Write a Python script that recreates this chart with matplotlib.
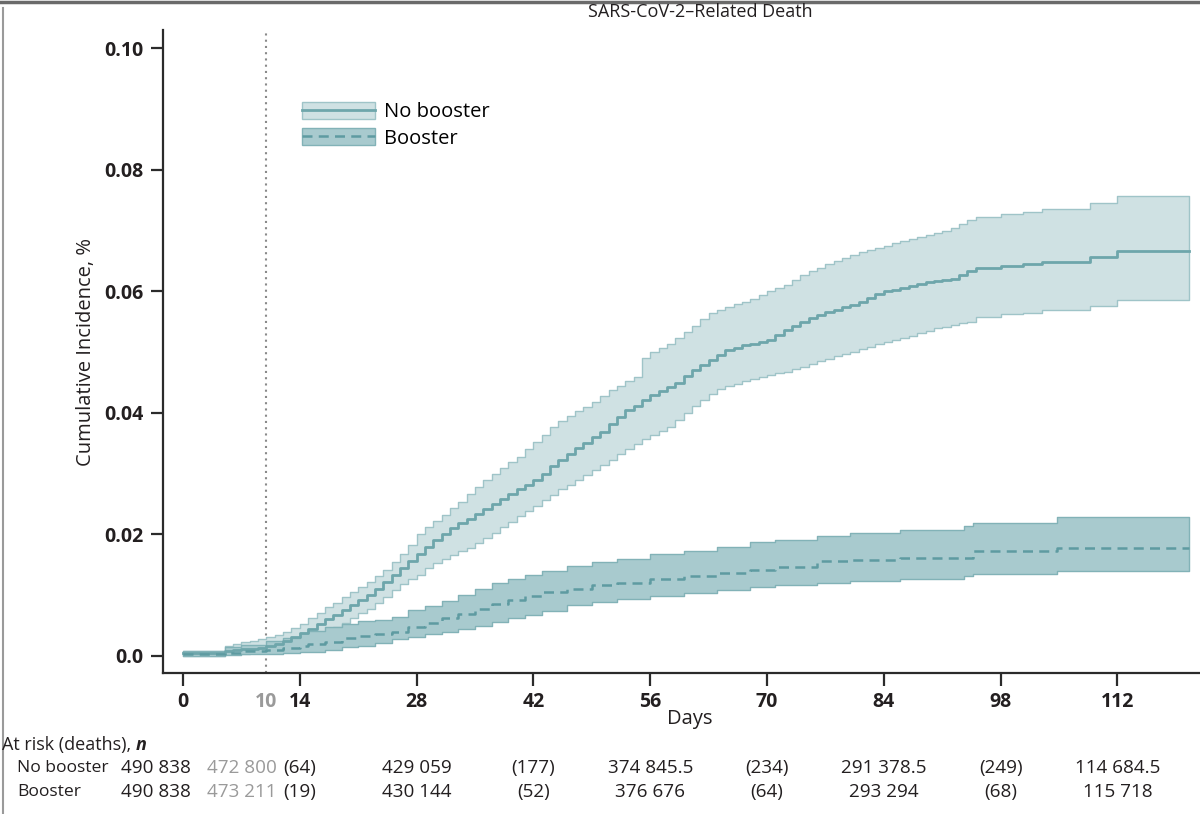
import matplotlib
matplotlib.use("Agg")
import matplotlib.pyplot as plt
from matplotlib.patches import Patch
from matplotlib.lines import Line2D
from matplotlib.legend_handler import HandlerTuple
import matplotlib.transforms as mtransforms

plt.rcParams["font.family"] = ["Open Sans", "DejaVu Sans"]

# ---------- data ----------
END_DAY = 120.6

nb_days = [0, 5, 6, 7, 8, 9, 10, 11, 12, 13, 14, 15, 16, 17, 18, 19, 20,
           21, 22, 23, 24, 25, 26, 27, 28, 29, 30, 31, 32, 33, 34, 35, 36,
           37, 38, 39, 40, 41, 42, 43, 44, 45, 46, 47, 48, 49, 50, 51, 52,
           53, 54, 55, 56, 57, 58, 59, 60, 61, 62, 63, 64, 65, 66, 67, 68,
           69, 70, 71, 72, 73, 74, 75, 76, 77, 78, 79, 80, 81, 82, 83, 84,
           85, 86, 87, 88, 89, 90, 91, 92, 93, 94, 95, 98, 100.7, 103,
           108.7, 111.9]
nb_mean = [0.0005, 0.0009, 0.0010, 0.0011, 0.0012, 0.0013, 0.0016, 0.0020,
           0.0025, 0.0031, 0.0037, 0.0045, 0.0053, 0.0061, 0.0068, 0.0076,
           0.0084, 0.0092, 0.0101, 0.0111, 0.0122, 0.0133, 0.0144, 0.0157,
           0.0168, 0.0180, 0.0191, 0.0201, 0.0210, 0.0218, 0.0226, 0.0234,
           0.0242, 0.0250, 0.0258, 0.0267, 0.0275, 0.0282, 0.0290, 0.0300,
           0.0312, 0.0322, 0.0332, 0.0342, 0.0350, 0.0360, 0.0369, 0.0381,
           0.0393, 0.0404, 0.0412, 0.0422, 0.0430, 0.0436, 0.0442, 0.0449,
           0.0461, 0.0470, 0.0478, 0.0487, 0.0495, 0.0503, 0.0507, 0.0511,
           0.0514, 0.0517, 0.0520, 0.0528, 0.0536, 0.0543, 0.0550, 0.0556,
           0.0561, 0.0566, 0.0570, 0.0574, 0.0577, 0.0583, 0.0589, 0.0595,
           0.0600, 0.0603, 0.0606, 0.0609, 0.0612, 0.0615, 0.0617, 0.0619,
           0.0621, 0.0627, 0.0634, 0.0638, 0.0641, 0.0645, 0.0649, 0.0657,
           0.0667]
nb_hi = [0.0009, 0.0016, 0.0019, 0.0023, 0.0025, 0.0028, 0.0031, 0.0035,
         0.0040, 0.0046, 0.0053, 0.0062, 0.0071, 0.0080, 0.0088, 0.0097,
         0.0105, 0.0113, 0.0122, 0.0131, 0.0142, 0.0155, 0.0168, 0.0182,
         0.0200, 0.0212, 0.0222, 0.0232, 0.0243, 0.0254, 0.0266, 0.0278,
         0.0290, 0.0300, 0.0310, 0.0320, 0.0328, 0.0340, 0.0352, 0.0364,
         0.0377, 0.0386, 0.0395, 0.0403, 0.0410, 0.0418, 0.0427, 0.0437,
         0.0444, 0.0452, 0.0459, 0.0490, 0.0500, 0.0507, 0.0514, 0.0523,
         0.0533, 0.0543, 0.0555, 0.0564, 0.0570, 0.0575, 0.0579, 0.0582,
         0.0588, 0.0594, 0.0600, 0.0605, 0.0610, 0.0619, 0.0627, 0.0633,
         0.0639, 0.0645, 0.0650, 0.0655, 0.0660, 0.0664, 0.0668, 0.0671,
         0.0675, 0.0679, 0.0682, 0.0686, 0.0689, 0.0693, 0.0696, 0.0700,
         0.0704, 0.0711, 0.0718, 0.0723, 0.0727, 0.0730, 0.0736, 0.0746,
         0.0757]
nb_lo = [0.0000, 0.0003, 0.0003, 0.0004, 0.0005, 0.0006, 0.0007, 0.0010,
         0.0013, 0.0017, 0.0022, 0.0028, 0.0034, 0.0041, 0.0048, 0.0055,
         0.0062, 0.0070, 0.0078, 0.0087, 0.0097, 0.0108, 0.0118, 0.0126,
         0.0133, 0.0145, 0.0153, 0.0160, 0.0166, 0.0172, 0.0178, 0.0186,
         0.0194, 0.0203, 0.0212, 0.0221, 0.0230, 0.0239, 0.0247, 0.0256,
         0.0265, 0.0274, 0.0282, 0.0290, 0.0298, 0.0306, 0.0314, 0.0323,
         0.0332, 0.0340, 0.0349, 0.0357, 0.0364, 0.0370, 0.0377, 0.0388,
         0.0400, 0.0412, 0.0421, 0.0431, 0.0440, 0.0444, 0.0448, 0.0452,
         0.0455, 0.0459, 0.0462, 0.0465, 0.0468, 0.0472, 0.0475, 0.0480,
         0.0485, 0.0489, 0.0493, 0.0497, 0.0501, 0.0505, 0.0509, 0.0513,
         0.0517, 0.0520, 0.0524, 0.0527, 0.0531, 0.0535, 0.0539, 0.0542,
         0.0545, 0.0548, 0.0550, 0.0557, 0.0562, 0.0565, 0.0570, 0.0576,
         0.0586]

b_days = [0, 5, 7, 10, 12, 14, 15, 17, 19, 21, 23, 25, 27, 29, 31, 33, 35,
          37, 39, 41, 43, 46, 49, 52, 56, 60, 64, 68, 71, 76, 80, 86, 93.6,
          94.7, 104.8]
b_mean = [0.0004, 0.0005, 0.0008, 0.0010, 0.0013, 0.0016, 0.0019, 0.0023,
          0.0029, 0.0033, 0.0036, 0.0039, 0.0047, 0.0055, 0.0062, 0.0069,
          0.0077, 0.0085, 0.0092, 0.0099, 0.0105, 0.0111, 0.0116, 0.0120,
          0.0127, 0.0132, 0.0137, 0.0141, 0.0146, 0.0156, 0.0158, 0.0161,
          0.0161, 0.0172, 0.0177]
b_hi = [0.0008, 0.0014, 0.0018, 0.0024, 0.0030, 0.0037, 0.0041, 0.0047,
        0.0053, 0.0057, 0.0060, 0.0064, 0.0075, 0.0082, 0.0091, 0.0100,
        0.0110, 0.0120, 0.0127, 0.0134, 0.0140, 0.0148, 0.0154, 0.0159,
        0.0167, 0.0173, 0.0180, 0.0187, 0.0191, 0.0198, 0.0202, 0.0207,
        0.0214, 0.0218, 0.0228]
b_lo = [0.0000, 0.0001, 0.0003, 0.0004, 0.0005, 0.0006, 0.0007, 0.0010,
        0.0014, 0.0017, 0.0021, 0.0028, 0.0032, 0.0036, 0.0040, 0.0045,
        0.0050, 0.0056, 0.0062, 0.0068, 0.0074, 0.0084, 0.0089, 0.0094,
        0.0099, 0.0104, 0.0108, 0.0113, 0.0116, 0.0120, 0.0123, 0.0126,
        0.0131, 0.0135, 0.0140]

x_ticks = [0, 10, 14, 28, 42, 56, 70, 84, 98, 112]
y_ticks = [0.0, 0.02, 0.04, 0.06, 0.08, 0.10]
y_labels = ["0.0", "0.02", "0.04", "0.06", "0.08", "0.10"]

risk_days = [14, 28, 42, 56, 70, 84, 98, 112]
nb_risk = ["(64)", "429 059", "(177)", "374 845.5", "(234)", "291 378.5", "(249)", "114 684.5"]
b_risk = ["(19)", "430 144", "(52)", "376 676", "(64)", "293 294", "(68)", "115 718"]
nb_start = ["490 838", "472 800"]
b_start = ["490 838", "473 211"]

# ---------- colours ----------
TXT = "#231f20"
GRAY = "#9a9a9a"
NB_FILL, NB_EDGE, NB_LINE = "#cfe1e3", "#9fc4c8", "#6ea6ab"
B_FILL, B_EDGE, B_LINE = "#a8cace", "#82b2b7", "#5e9ba1"

FS_TICK = 14
FS_TAB = 13.6
FS_ROW = 12.6


def ext(days, vals):
    # carry the last value to the end of follow-up
    return list(days) + [END_DAY], list(vals) + [vals[-1]]


fig = plt.figure(figsize=(12, 8.14), dpi=100)
ax = fig.add_axes([163 / 1200, 1 - 673 / 814, 1 - 163 / 1200, (673 - 30) / 814])

xd, lo = ext(nb_days, nb_lo)
_, hi = ext(nb_days, nb_hi)
_, mn = ext(nb_days, nb_mean)
ax.fill_between(xd, lo, hi, step="post", facecolor=NB_FILL, edgecolor=NB_EDGE, lw=1.0, zorder=2)
ax.step(xd, mn, where="post", color=NB_LINE, lw=2.0, zorder=4)

xb, blo = ext(b_days, b_lo)
_, bhi = ext(b_days, b_hi)
_, bmn = ext(b_days, b_mean)
ax.fill_between(xb, blo, bhi, step="post", facecolor=B_FILL, edgecolor=B_EDGE, lw=1.0, zorder=3)
ax.step(xb, bmn, where="post", color=B_LINE, lw=1.8, ls=(0, (4, 2.5)), zorder=5)

ax.axvline(10, ymin=0, ymax=1, color="#8a8a8a", ls=(0, (1, 2)), lw=1.5, zorder=1)

ax.set_xlim(-2.4, 121.9)
ax.set_ylim(-0.0028, 0.103)
for s in ["top", "right"]:
    ax.spines[s].set_visible(False)
for s in ["left", "bottom"]:
    ax.spines[s].set_linewidth(1.6)
    ax.spines[s].set_color("#2b2b2b")

ax.set_xticks(x_ticks)
ax.set_xticklabels([str(t) for t in x_ticks], fontsize=FS_TICK, fontweight="bold", color=TXT)
ax.set_yticks(y_ticks)
ax.set_yticklabels(y_labels, fontsize=FS_TICK, fontweight="bold", color=TXT)
ax.tick_params(axis="both", direction="out", length=9, width=1.6, color="#2b2b2b", pad=5)
# day 10 is marked by the dotted line only, with a gray label
ax.xaxis.get_major_ticks()[1].tick1line.set_visible(False)
ax.get_xticklabels()[1].set_color(GRAY)

fig.text(690 / 1200, 1 - 719 / 814, "Days", ha="center", va="center", fontsize=14.5, color=TXT)
ax.set_ylabel("Cumulative Incidence, %", fontsize=14.5, color=TXT)
ax.yaxis.set_label_coords((96 - 163) / 1037, 0.5)
fig.text(700 / 1200, 1 - 12 / 814, "SARS-CoV-2\u2013Related Death", ha="center", va="center",
         fontsize=13, color=TXT)

# legend
h_nb = (Patch(facecolor=NB_FILL, edgecolor=NB_EDGE, lw=1.0), Line2D([], [], color=NB_LINE, lw=2.0))
h_b = (Patch(facecolor=B_FILL, edgecolor=B_EDGE, lw=1.0), Line2D([], [], color=B_LINE, lw=1.8, ls=(0, (4, 2.5))))
ax.legend([h_nb, h_b], ["No booster", "Booster"], handler_map={tuple: HandlerTuple(ndivide=1)},
          loc="upper left", bbox_to_anchor=((302 - 163) / 1037, (673 - 102) / 643),
          frameon=False, fontsize=14.5, handlelength=3.6, handleheight=0.9,
          handletextpad=0.45, labelspacing=0.3, borderpad=0, borderaxespad=0)

# at-risk table
tr = mtransforms.blended_transform_factory(ax.transData, fig.transFigure)
t_head = fig.text(2 / 1200, 1 - 745 / 814, "At risk (deaths), ", ha="left", va="center",
                  fontsize=13, color=TXT)
fig.canvas.draw()
bb = t_head.get_window_extent()
fig.text(bb.x1 / 1200, 1 - 745 / 814, "n", ha="left", va="center", fontsize=13, color=TXT,
         style="italic", fontweight="bold")
rows = [("No booster", nb_start, nb_risk, 768), ("Booster", b_start, b_risk, 792)]
for label, start, vals, ypx in rows:
    yy = 1 - ypx / 814
    fig.text(17 / 1200, yy, label, ha="left", va="center", fontsize=FS_ROW, color=TXT)
    ax.text(1.0, yy, start[0], transform=tr, ha="right", va="center", fontsize=FS_TAB, color=TXT)
    ax.text(11.2, yy, start[1], transform=tr, ha="right", va="center", fontsize=FS_TAB, color=GRAY)
    for d, v in zip(risk_days, vals):
        ax.text(d, yy, v, transform=tr, ha="center", va="center", fontsize=FS_TAB, color=TXT)

# scan border remnants
fig.add_artist(Line2D([3 / 1200, 3 / 1200], [0, 1 - 8 / 814], transform=fig.transFigure, color=GRAY, lw=1.5))
fig.add_artist(Line2D([0, 1], [1 - 2 / 814, 1 - 2 / 814], transform=fig.transFigure, color="#6a6a6a", lw=2.5))

fig.savefig("out.png", dpi=100)
